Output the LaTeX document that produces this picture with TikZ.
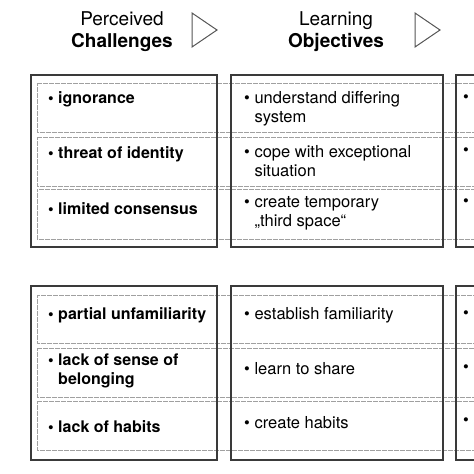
\documentclass[tikz,border=0pt]{standalone}
\usepackage{fontspec}
\setmainfont{TeX Gyre Heros}
\usepackage{xcolor}
\usepackage{tikz}

\definecolor{boxgray}{HTML}{3A3A3A}
\definecolor{dotgray}{HTML}{A0A0A0}
\definecolor{arrgray}{HTML}{555555}

\tikzset{
  colbox/.style={draw=boxgray, line width=1.2pt, minimum width=#1, minimum height=172pt, inner sep=0pt},
  band/.style={draw=dotgray, line width=0.6pt, dash pattern=on 0.5pt off 0.7pt},
  item/.style={anchor=west, align=left, inner sep=0pt, font=\fontsize{16.5}{19}\selectfont},
  bolditem/.style={item, font=\fontsize{16}{19}\selectfont\bfseries},
  head/.style={align=center, inner sep=0pt, font=\fontsize{19}{22}\selectfont},
  nextarrow/.style={draw=arrgray, line width=1pt, line join=miter}
}

\begin{document}
\begin{tikzpicture}[x=1pt, y=-1pt]
				\useasboundingbox (0,0) rectangle (474,474);
				\clip (0,0) rectangle (474,474);
				
				% headings
				\node[head] (challenges) at (122,32) {Perceived\\\textbf{Challenges}};
				\node[head] (objectives) at (336,32) {Learning\\\textbf{Objectives}};
				\draw[nextarrow] (192,13) -- (217,30) -- (192,47) -- cycle;
				\draw[nextarrow] (415,13) -- (440,30) -- (415,47) -- cycle;
				
				% dotted rows
				\draw[band] (37,83) rectangle (720,132);
				\draw[band] (37,137) rectangle (720,186);
				\draw[band] (37,189) rectangle (720,239);
				\draw[band] (37,295) rectangle (720,343);
				\draw[band] (37,348) rectangle (720,397);
				\draw[band] (37,401) rectangle (720,450);
				
				% column boxes
				\node[colbox=186pt] (chTop) at (124,161) {};
				\node[colbox=212pt] (obTop) at (337,161) {};
				\node[colbox=214pt] (nxTop) at (563,161) {};
				\node[colbox=186pt, minimum height=174pt] (chBot) at (124,373) {};
				\node[colbox=212pt, minimum height=174pt] (obBot) at (337,373) {};
				\node[colbox=214pt, minimum height=174pt] (nxBot) at (563,373) {};
				
				% upper group
				\node[bolditem] (ignorance) at (48,99) {• ignorance};
				\node[bolditem] (threat) at (48,154) {• threat of identity};
				\node[bolditem] (consensus) at (48,209) {• limited consensus};
				\node[item] (understand) at (244,108.5) {• understand differing\\\phantom{• }system};
				\node[item] (cope) at (244,161) {• cope with exceptional\\\phantom{• }situation};
				\node[item] (thirdspace) at (244,213) {• create temporary\\\phantom{• }„third space“};
				\node[item] (nxA) at (463,99) {•};
				\node[item] (nxB) at (463,152) {•};
				\node[item] (nxC) at (463,203) {•};
				
				% lower group
				\node[bolditem] (unfamiliar) at (48,315) {• partial unfamiliarity};
				\node[bolditem] (belonging) at (48,371) {• lack of sense of\\\phantom{• }belonging};
				\node[bolditem] (nohabits) at (48,427) {• lack of habits};
				\node[item] (familiarity) at (244,315) {• establish familiarity};
				\node[item] (share) at (244,369) {• learn to share};
				\node[item] (habits) at (244,423) {• create habits};
				\node[item] (nxD) at (463,315) {•};
				\node[item] (nxE) at (463,369) {•};
				\node[item] (nxF) at (463,422) {•};
			\end{tikzpicture}
\end{document}
